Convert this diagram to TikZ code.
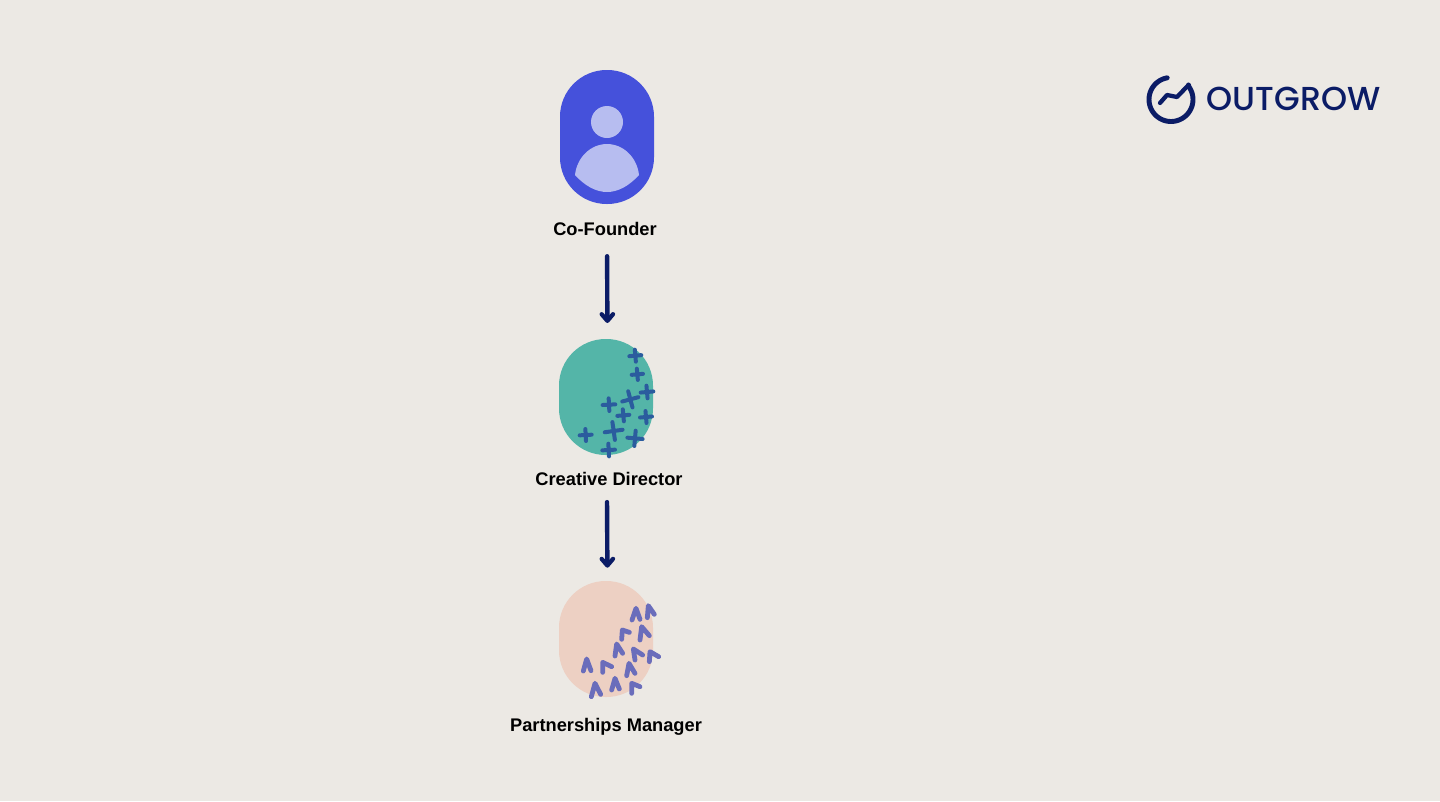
\documentclass[tikz,border=0pt]{standalone}
\usepackage{fontspec}
\setmainfont{Liberation Sans}
\newfontfamily\logofont{Poppins}[UprightFont=* Medium]
\usetikzlibrary{arrows.meta}
\definecolor{bgc}{HTML}{ECE9E4}
\definecolor{blueP}{HTML}{4551DB}
\definecolor{blueL}{HTML}{B7BDF0}
\definecolor{tealP}{HTML}{54B5A8}
\definecolor{peachP}{HTML}{EDD0C3}
\definecolor{plusC}{HTML}{2B5C9E}
\definecolor{chevC}{HTML}{6A6DBB}
\definecolor{navy}{HTML}{0B1C66}
\tikzset{
  pill/.style={inner sep=0pt,outer sep=0pt,minimum width=70.5pt,minimum height=#1,rounded corners=35pt},
  lab/.style={inner sep=0pt,font=\fontsize{13.7pt}{16pt}\selectfont\bfseries,text=black},
  flow/.style={draw=navy,line width=3.3pt,line cap=round,-{Straight Barb[length=5pt,width=8.5pt,line width=3.2pt,round]}},
  plusm/.style={draw=plusC,line width=3pt,line cap=round},
  chev/.style={draw=chevC,line width=3.6pt,line cap=round,line join=round},
  logo/.style={draw=navy,line width=3.7pt,line cap=round,line join=round}
}
\begin{document}
\begin{tikzpicture}[x=0.75pt,y=-0.75pt]
\useasboundingbox (0,0) rectangle (1440,801);
\fill[bgc] (0,0) rectangle (1440,801);
\node[pill=100.5pt,fill=blueP] (pillA) at (607,137) {};
\node[pill=87pt,fill=tealP] (pillB) at (606,397) {};
\node[pill=87pt,fill=peachP] (pillC) at (606,639) {};
\node[circle,fill=blueL,inner sep=0pt,minimum size=24pt] (head) at (607,122) {};
\fill[blueL] (575,175) .. controls (577,157) and (591,144) .. (607,144) .. controls (623,144) and (637,157) .. (639,175) .. controls (629,186) and (618,192) .. (607,192) .. controls (596,192) and (585,186) .. (575,175) -- cycle;
\node[lab] (labA) at (605,229.3) {Co-Founder};
\node[lab] (labB) at (609,478.5) {Creative Director};
\node[lab] (labC) at (606,727) {Partnerships Manager};
\draw[flow,shorten <=15pt,shorten >=12pt] (pillA.south |- labA.south) -- ([xshift=1.1pt]pillB.north);
\draw[flow,shorten <=12.5pt,shorten >=10pt] ([xshift=0.7pt]pillB.south |- labB.south) -- ([xshift=1.1pt]pillC.north);
% plus marks
\begin{scope}[shift={(550,335)},x=0.25pt,y=-0.25pt]
\foreach \px/\py/\r/\a in {256/62/18/5,262/118/17/5,291/171/19/5,241/193/25/15,177/209/19/3,220/241/18/5,288/246/18/5,191/288/27/8,107/300/18/3,255/310/23/-5,176/345/19/3}
  \draw[plusm,shift={(\px,\py)},rotate=\a] (-\r,0) -- (\r,0) (0,-\r) -- (0,\r);
\end{scope}
% chevrons
\begin{scope}[shift={(550,575)},x=0.25pt,y=-0.25pt]
\foreach \ax/\ay/\bx/\by/\cx/\cy in {258/100/246/135/270/133,295/92/292/128/313/118,217/165/215/193/238/172,275/155/270/195/298/182,200/207/195/243/218/235,250/222/255/255/278/240,300/230/298/260/326/245,110/252/100/288/123/287,158/262/158/292/185/275,237/265/230/302/255/295,195/310/185/345/208/342,135/325/124/365/152/358,245/325/245/355/270/335}
  \draw[chev] (\bx,\by) -- (\ax,\ay) -- (\cx,\cy);
\end{scope}
% logo
\draw[logo] plot[smooth,samples=60,domain=100:395] ({1171+22*cos(\x)},{99.5-22*sin(\x)}) -- (1188.5,85);
\draw[logo,line width=3.2pt] (1188.5,85) -- (1177,97) -- (1167,95) -- (1160,103);
\node[inner sep=0pt,text=navy,font=\logofont\fontsize{24.9pt}{28pt}\selectfont] (logotext) at (1293.5,99) {OUTGROW};
\end{tikzpicture}
\end{document}
